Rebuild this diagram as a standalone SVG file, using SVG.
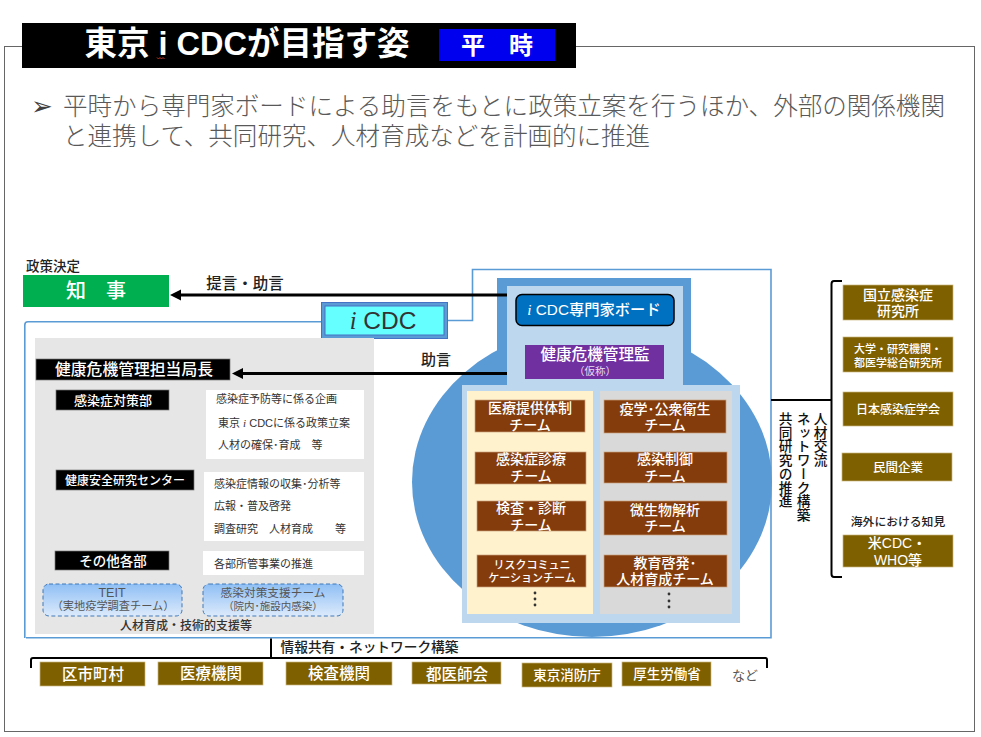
<svg xmlns="http://www.w3.org/2000/svg" width="981" height="737" viewBox="0 0 981 737">
<defs>
<linearGradient id="tg" x1="0" y1="0" x2="0" y2="1"><stop offset="0" stop-color="#8fbff5"/><stop offset="1" stop-color="#dceafb"/></linearGradient>
<marker id="ah" markerUnits="userSpaceOnUse" markerWidth="12" markerHeight="12" refX="0" refY="6" orient="auto"><path d="M0 0.500L11 6L0 11.500Z" fill="#000"/></marker>
</defs>
<style>
text{font-family:"Liberation Sans","Noto Sans CJK JP",sans-serif;text-anchor:middle}
.w{fill:#fff}.k{fill:#222}
.gold{fill:#7f6000;stroke:#c9b77e;stroke-width:.7}
.brown{fill:#843c0c;stroke:#c9a27e;stroke-width:.7}
.blk{fill:#000;stroke:#777;stroke-width:.7}
.wb{fill:#fff}
.t{font-size:14px;fill:#fff;font-weight:500}
.s{font-size:11px;fill:#333;text-anchor:start}
.dash{fill:url(#tg);stroke:#3f79b8;stroke-width:1;stroke-dasharray:4 2.5}
.ln{fill:none;stroke:#000;stroke-width:2}
.bl{fill:none;stroke:#5b9bd5;stroke-width:1.6}
.vt{writing-mode:vertical-rl;text-anchor:start;font-size:13.700px;fill:#111;font-weight:500}
.body{font-size:24.550px;fill:#595959;font-weight:300;text-anchor:start}
</style>
<rect width="981" height="737" fill="#fff"/>
<rect x="4.500" y="46.500" width="970" height="685" fill="none" stroke="#666" stroke-width="1"/>
<g id="title">
<rect x="22" y="23" width="554" height="45" fill="#000"/>
<text x="247" y="55" font-size="32.500" font-weight="700" class="w">東京<tspan> i </tspan>CDCが目指す姿</text>
<path d="M157 57.500l1.500 1.500 1.500-1.500 1.500 1.500 1.500-1.500 1.500 1.500" fill="none" stroke="#c0392b" stroke-width="1"/>
<rect x="439" y="29" width="116" height="32" fill="#0000ee"/>
<text x="497" y="54" font-size="24" font-weight="700" class="w" xml:space="preserve">平　時</text>
</g>
<g id="intro">
<text x="31" y="115" font-size="26" fill="#404040" style="text-anchor:start">➢</text>
<text x="63" y="115" class="body">平時から専門家ボードによる助言をもとに政策立案を行うほか、外部の関係機関</text>
<text x="63" y="145" class="body">と連携して、共同研究、人材育成などを計画的に推進</text>
</g>
<g id="connectors-back">
<path class="bl" d="M24.800 638V325Q24.800 321.800 28 321.800H322M446 320.500H472.500V269.500H771V637.800H26"/>
</g>
<g id="cdc-core">
<ellipse cx="592" cy="482" rx="180" ry="155" fill="#5b9bd5"/>
<rect x="497" y="278" width="194" height="110" fill="#5b9bd5"/>
<rect x="507" y="286" width="176" height="100" fill="#bdd7ee"/>
<rect x="462" y="385" width="278" height="238" fill="#bdd7ee"/>
<rect x="467" y="391" width="126" height="223" fill="#fff2cc"/>
<rect x="600" y="391" width="132" height="223" fill="#d9d9d9"/>
</g>
<g id="chiji">
<text x="53" y="271" font-size="13.500" font-weight="500" fill="#222">政策決定</text>
<rect x="23" y="275" width="146" height="32" fill="#00b050"/>
<text x="96" y="298" font-size="20" font-weight="500" class="w" xml:space="preserve">知　事</text>
</g>
<g id="icdc">
<rect x="321.500" y="302.500" width="126" height="36" fill="#5b9bd5" stroke="#4472c4"/>
<rect x="325" y="306" width="119" height="29" fill="#66ffff" stroke="#4472c4"/>
<text x="383" y="329" font-size="24.500" fill="#333"><tspan font-family="Liberation Serif" font-style="italic">i</tspan> CDC</text>
</g>
<g id="panel">
<rect x="35" y="338" width="339" height="296" fill="#e7e6e6"/>
</g>
<g id="kyokucho">
<rect x="36" y="359" width="194" height="21" class="blk"/>
<text x="134" y="375" font-size="15.800" font-weight="500" class="w">健康危機管理担当局長</text>
</g>
<g id="dept1">
<rect x="56" y="390" width="113" height="20" class="blk"/>
<text x="113" y="405" font-size="13" font-weight="500" class="w">感染症対策部</text>
<rect x="206" y="390" width="158" height="69" class="wb"/>
<text x="216" y="403" class="s">感染症予防等に係る企画</text>
<text x="218" y="427" class="s">東京 <tspan font-family="Liberation Serif" font-style="italic">i</tspan> CDCに係る政策立案</text>
<text x="218" y="449" class="s">人材の確保･育成　等</text>
</g>
<g id="dept2">
<rect x="56" y="470" width="138" height="20" class="blk"/>
<text x="125" y="485" font-size="12" font-weight="500" class="w">健康安全研究センター</text>
<rect x="204" y="472" width="160" height="69" class="wb"/>
<text x="214" y="488" class="s">感染症情報の収集･分析等</text>
<text x="214" y="510" class="s">広報・普及啓発</text>
<text x="214" y="533" class="s" xml:space="preserve">調査研究　人材育成　　等</text>
</g>
<g id="dept3">
<rect x="55" y="551" width="114" height="19" class="blk"/>
<text x="113" y="566" font-size="13.500" font-weight="500" class="w">その他各部</text>
<rect x="203" y="551" width="161" height="24" class="wb"/>
<text x="214" y="568" class="s">各部所管事業の推進</text>
</g>
<g id="teit">
<rect x="43" y="584" width="139" height="32" rx="6" class="dash"/>
<text x="112" y="597" font-size="12.500" fill="#555">TEIT</text>
<text x="113" y="610" font-size="11.200" fill="#555">（実地疫学調査チーム）</text>
</g>
<g id="shien">
<rect x="203" y="584" width="140" height="32" rx="6" class="dash"/>
<text x="273" y="597" font-size="11.700" fill="#555">感染対策支援チーム</text>
<text x="273" y="610" font-size="10.500" fill="#555">（院内･施設内感染）</text>
</g>
<text x="186" y="630" font-size="12" font-weight="500" fill="#333">人材育成・技術的支援等</text>
<g id="connectors">
<path class="ln" style="stroke-width:3" d="M507 295H181" marker-end="url(#ah)"/>
<path class="ln" style="stroke-width:3" d="M507 373.500H243" marker-end="url(#ah)"/>
<path class="ln" d="M271 638.500V658M31 668V660Q31 658 33 658H765.500Q767 658 767 660V668"/>
<path class="ln" d="M771 400H831M842 281H834Q831.500 281 831.500 284V574Q831.500 577 834 577H842"/>
</g>
<text x="245" y="289" font-size="15.500" font-weight="500" fill="#222">提言・助言</text>
<text x="436" y="365" font-size="15" font-weight="500" fill="#222">助言</text>
<text x="369.500" y="652" font-size="13.700" font-weight="500" fill="#222">情報共有・ネットワーク構築</text>
<g id="board">
<rect x="516" y="294.500" width="158" height="31" rx="6" fill="#0070c0" stroke="#000" stroke-width="1.500"/>
<text x="594" y="315" font-size="15.300" font-weight="500" class="w"><tspan font-family="Liberation Serif" font-style="italic">i</tspan> CDC専門家ボード</text>
</g>
<g id="kanrikan">
<rect x="525" y="345" width="139" height="34" fill="#7030a0"/>
<text x="595" y="360" font-size="15.600" font-weight="500" class="w">健康危機管理監</text>
<text x="595" y="375" font-size="10.500" fill="#e8dcf0">（仮称）</text>
</g>
<g id="team1"><rect x="475" y="400" width="110" height="32" class="brown"/><text x="530" y="413" class="t">医療提供体制</text><text x="530" y="430" class="t">チーム</text></g>
<g id="team2"><rect x="604" y="400" width="122" height="33" class="brown"/><text x="665" y="414" class="t">疫学･公衆衛生</text><text x="665" y="430" class="t">チーム</text></g>
<g id="team3"><rect x="475" y="452" width="111" height="32" class="brown"/><text x="531" y="464" class="t">感染症診療</text><text x="531" y="481" class="t">チーム</text></g>
<g id="team4"><rect x="604" y="452" width="123" height="31" class="brown"/><text x="665" y="464" class="t">感染制御</text><text x="665" y="481" class="t">チーム</text></g>
<g id="team5"><rect x="477" y="501" width="109" height="30" class="brown"/><text x="531" y="513" class="t">検査・診断</text><text x="531" y="530" class="t">チーム</text></g>
<g id="team6"><rect x="604" y="501" width="123" height="34" class="brown"/><text x="665" y="515" class="t">微生物解析</text><text x="665" y="531" class="t">チーム</text></g>
<g id="team7"><rect x="477" y="555" width="109" height="32" class="brown"/><text x="532" y="569" font-size="11" class="w" font-weight="500">リスクコミュニ</text><text x="532" y="582" font-size="11" class="w" font-weight="500">ケーションチーム</text></g>
<g id="team8"><rect x="604" y="555" width="123" height="32" class="brown"/><text x="665" y="568" class="t">教育啓発･</text><text x="665" y="584" class="t">人材育成チーム</text></g>
<g id="dots" fill="#333"><circle cx="535" cy="593" r="1.400"/><circle cx="535" cy="599" r="1.400"/><circle cx="535" cy="605" r="1.400"/><circle cx="669" cy="594" r="1.400"/><circle cx="669" cy="601" r="1.400"/><circle cx="669" cy="607" r="1.400"/></g>
<g id="network-label">
<text x="819" y="412" class="vt">人材交流</text>
<text x="802" y="412" class="vt">ネットワーク構築</text>
<text x="784" y="412" class="vt">共同研究の推進</text>
</g>
<g id="org1"><rect x="843" y="285" width="110" height="35" class="gold"/><text x="898" y="300" class="t" font-size="13">国立感染症</text><text x="898" y="316" class="t">研究所</text></g>
<g id="org2"><rect x="843" y="337" width="110" height="35" class="gold"/><text x="898" y="353" font-size="11" font-weight="500" class="w">大学・研究機関・</text><text x="898" y="367" font-size="11" font-weight="500" class="w">都医学総合研究所</text></g>
<g id="org3"><rect x="843" y="392" width="110" height="34" class="gold"/><text x="898" y="414" font-size="12" font-weight="500" class="w">日本感染症学会</text></g>
<g id="org4"><rect x="842" y="453" width="110" height="28" class="gold"/><text x="898" y="472" font-size="12.500" font-weight="500" class="w">民間企業</text></g>
<text x="898" y="526" font-size="11.800" font-weight="500" fill="#222">海外における知見</text>
<g id="org5"><rect x="843" y="535" width="110" height="32" class="gold"/><text x="897" y="548" class="t">米CDC・</text><text x="898" y="565" class="t">WHO等</text></g>
<g id="p1"><rect x="40" y="662" width="105" height="24" class="gold"/><text x="93" y="680" font-size="15.500" font-weight="500" class="w">区市町村</text></g>
<g id="p2"><rect x="158" y="662" width="105" height="23" class="gold"/><text x="211" y="679" font-size="15.500" font-weight="500" class="w">医療機関</text></g>
<g id="p3"><rect x="286" y="662" width="106" height="23" class="gold"/><text x="339" y="679" font-size="15.500" font-weight="500" class="w">検査機関</text></g>
<g id="p4"><rect x="412" y="662" width="89" height="22" class="gold"/><text x="457" y="680" font-size="15.500" font-weight="500" class="w">都医師会</text></g>
<g id="p5"><rect x="522" y="663" width="90" height="24" class="gold"/><text x="567" y="680" font-size="13.500" font-weight="500" class="w">東京消防庁</text></g>
<g id="p6"><rect x="622" y="662" width="89" height="24" class="gold"/><text x="667" y="679" font-size="13.500" font-weight="500" class="w">厚生労働省</text></g>
<text x="745" y="680" font-size="13" fill="#555">など</text>
</svg>
